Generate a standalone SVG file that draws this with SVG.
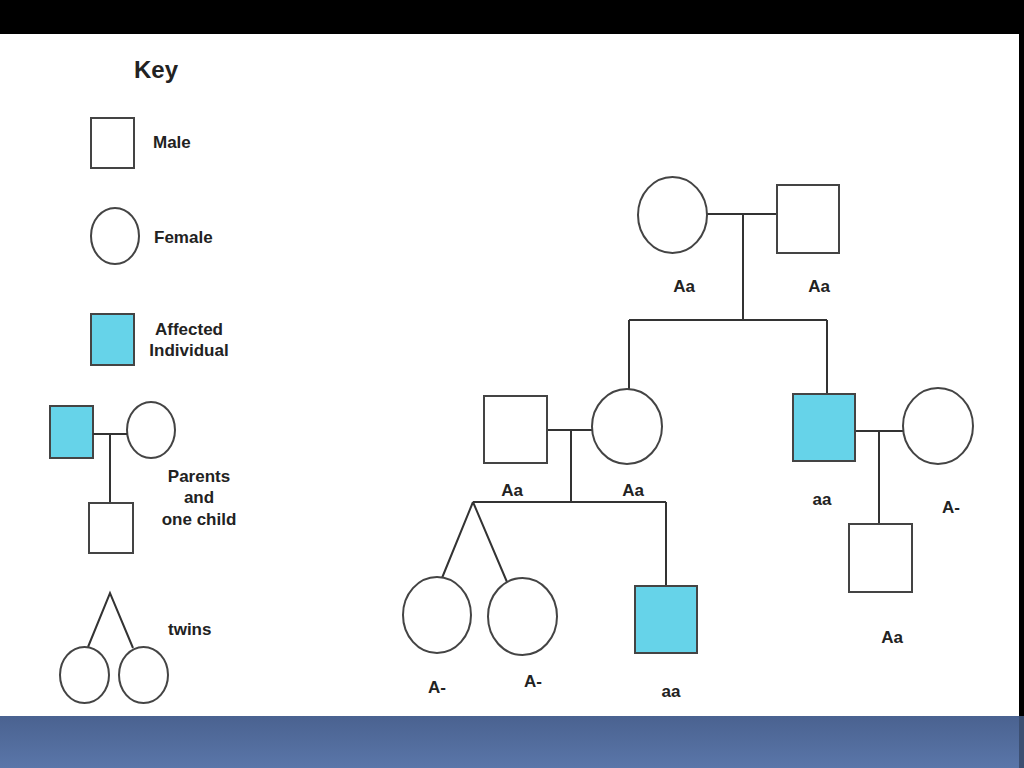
<svg xmlns="http://www.w3.org/2000/svg" width="1024" height="768" viewBox="0 0 1024 768">
<defs>
<linearGradient id="band" x1="0" y1="0" x2="0" y2="1">
<stop offset="0" stop-color="#4a6290"/>
<stop offset="1" stop-color="#5a76a9"/>
</linearGradient>
<style>
.sh{fill:#fff;stroke:#444;stroke-width:2}
.af{fill:#66d3e9;stroke:#444;stroke-width:2}
.ln{stroke:#333;stroke-width:2;fill:none}
text{font-family:"Liberation Sans",Arial,sans-serif;font-weight:bold;fill:#222;font-size:17px}
.c{text-anchor:middle}
</style>
</defs>
<rect x="0" y="0" width="1024" height="768" fill="#000"/>
<rect x="0" y="716" width="1024" height="52" fill="url(#band)"/>
<rect x="1019" y="716" width="5" height="52" fill="#3c4f72"/>
<rect x="0" y="34" width="1019" height="682" fill="#fff"/>

<g id="key">
<text x="156" y="78" class="c" style="font-size:24px">Key</text>
<g id="key-male"><rect class="sh" x="91" y="118" width="43" height="50"/><text x="153" y="148">Male</text></g>
<g id="key-female"><ellipse class="sh" cx="115" cy="236" rx="24" ry="28"/><text x="154" y="243">Female</text></g>
<g id="key-affected"><rect class="af" x="91" y="314" width="43" height="51"/><text x="189" y="335" class="c">Affected</text><text x="189" y="356" class="c">Individual</text></g>
<g id="key-parents">
<rect class="af" x="50" y="406" width="43" height="52"/>
<ellipse class="sh" cx="151" cy="430" rx="24" ry="28"/>
<path class="ln" d="M93 434H127M110 434V503"/>
<rect class="sh" x="89" y="503" width="44" height="50"/>
<text x="199" y="482" class="c">Parents</text>
<text x="199" y="503" class="c">and</text>
<text x="199" y="525" class="c">one child</text>
</g>
<g id="key-twins">
<path class="ln" d="M88 647L110 593L133 648"/>
<ellipse class="sh" cx="84.5" cy="675" rx="24.5" ry="28"/>
<ellipse class="sh" cx="143.5" cy="675" rx="24.5" ry="28"/>
<text x="168" y="635">twins</text>
</g>
</g>

<g id="connectors">
<path class="ln" d="M707 214H777M743 214V320M629 320H827M629 320V389M827 320V394"/>
<path class="ln" d="M547 430H592M571 430V502M473 502H666M666 502V586M473 502L442 578M473 502L507 582"/>
<path class="ln" d="M855 431H903M879 431V524"/>
</g>

<g id="gen1-female"><ellipse class="sh" cx="672.5" cy="215" rx="34.5" ry="38"/><text x="684" y="292" class="c">Aa</text></g>
<g id="gen1-male"><rect class="sh" x="777" y="185" width="62" height="68"/><text x="819" y="292" class="c">Aa</text></g>
<g id="gen2-husband"><rect class="sh" x="484" y="396" width="63" height="67"/><text x="512" y="496" class="c">Aa</text></g>
<g id="gen2-daughter"><ellipse class="sh" cx="627" cy="426.5" rx="35" ry="37.5"/><text x="633" y="496" class="c">Aa</text></g>
<g id="gen2-son"><rect class="af" x="793" y="394" width="62" height="67"/><text x="822" y="505" class="c">aa</text></g>
<g id="gen2-wife"><ellipse class="sh" cx="938" cy="426" rx="35" ry="38"/><text x="951" y="513" class="c">A-</text></g>
<g id="gen3-twin1"><ellipse class="sh" cx="437" cy="615" rx="34" ry="38"/><text x="437" y="693" class="c">A-</text></g>
<g id="gen3-twin2"><ellipse class="sh" cx="522.5" cy="616.5" rx="34.5" ry="38.5"/><text x="533" y="687" class="c">A-</text></g>
<g id="gen3-son"><rect class="af" x="635" y="586" width="62" height="67"/><text x="671" y="697" class="c">aa</text></g>
<g id="gen3-grandson"><rect class="sh" x="849" y="524" width="63" height="68"/><text x="892" y="643" class="c">Aa</text></g>
</svg>
